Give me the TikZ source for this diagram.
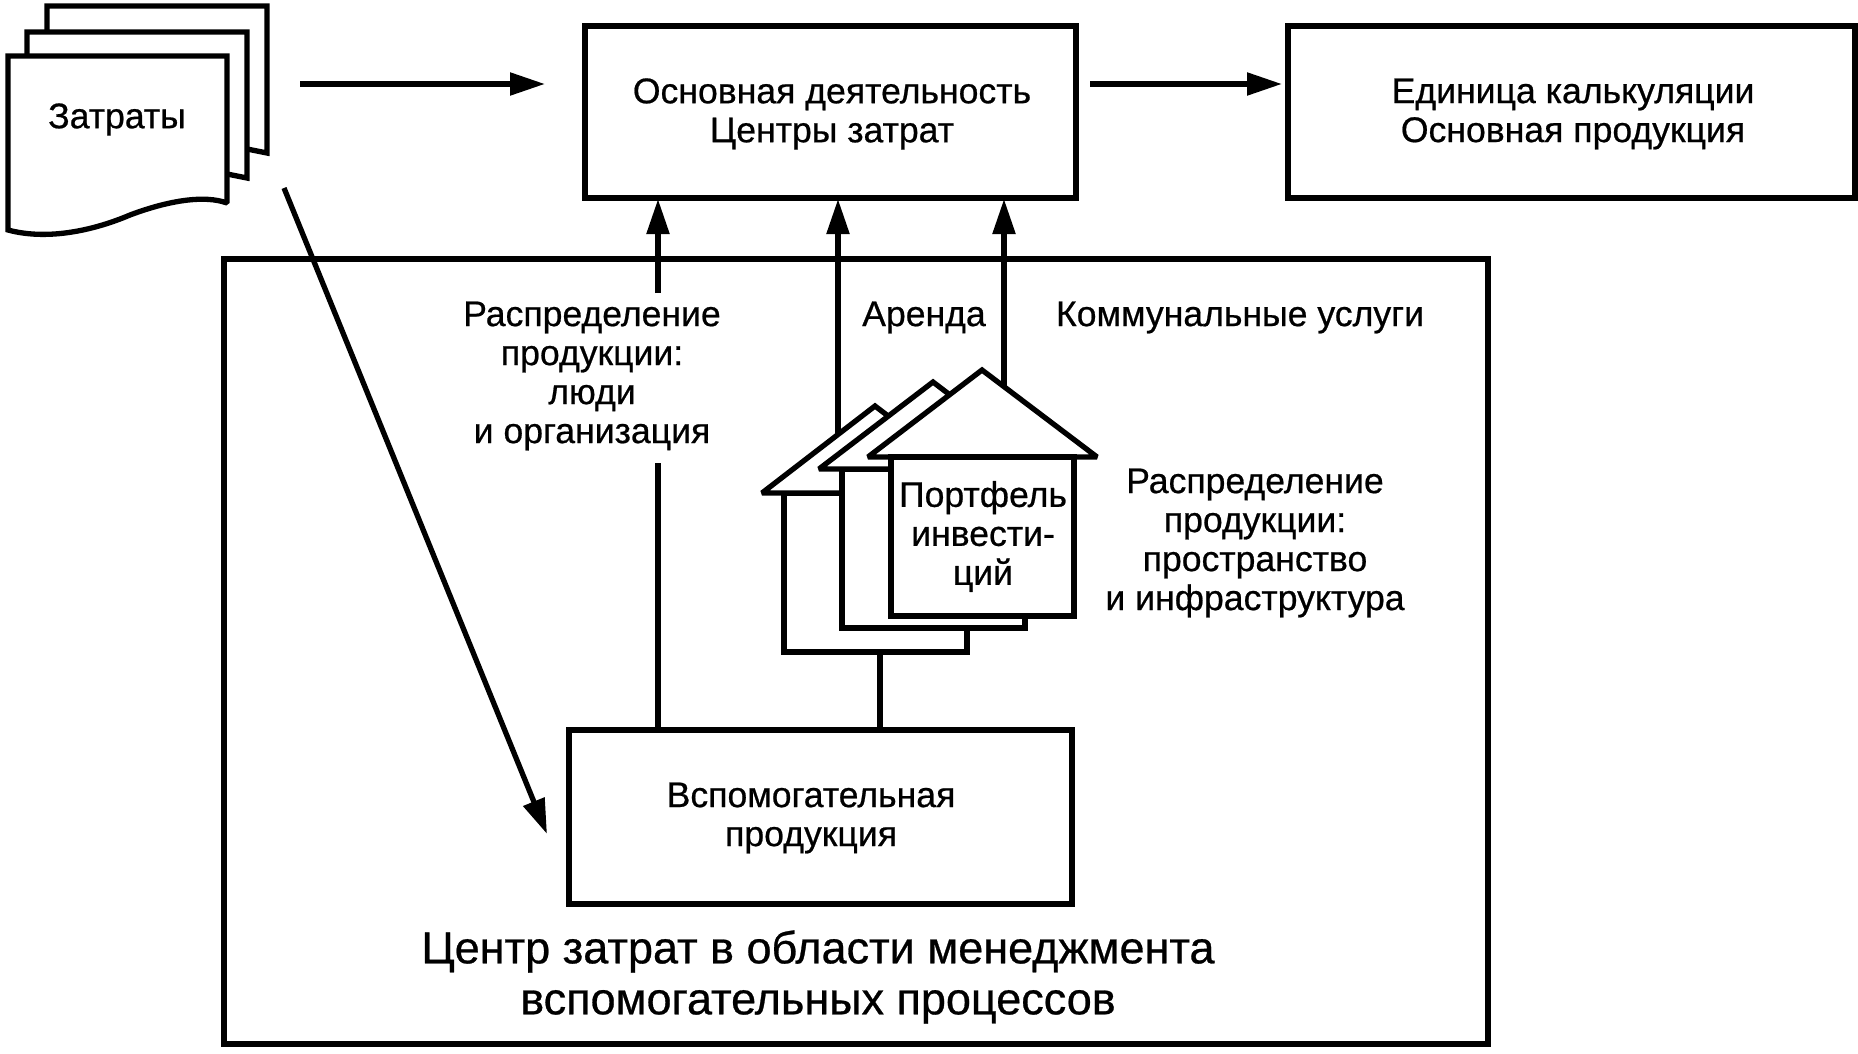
\documentclass[tikz,border=0pt]{standalone}
\usepackage{fontspec}
\setmainfont[FakeBold=0.6]{Liberation Sans}
\usetikzlibrary{arrows.meta}
\tikzset{
  lw/.style={line width=5.3pt},
  txt/.style={font=\fontsize{35.6}{39}\selectfont, align=center, inner sep=0pt},
  bigtxt/.style={font=\fontsize{45}{51}\selectfont, align=center, inner sep=0pt},
  boxn/.style={lw, draw=black, fill=white, inner sep=0pt},
  sheet/.style={lw, draw=black, fill=white, line join=miter, miter limit=1.6},
  conn/.style={lw, draw=black},
  arr/.style={lw, draw=black, -{Triangle[length=35pt,width=22pt]}}
}
\begin{document}
\begin{tikzpicture}[x=1pt,y=-1pt]
\useasboundingbox (0,0) rectangle (1858,1054);
\fill[white] (0,0) rectangle (1858,1054);
% support cost centre frame
\node[boxn, minimum width=1264pt, minimum height=785pt] (frame) at (856,651.5) {};
\node[bigtxt] (title) at (818,977) {Центр затрат в области менеджмента\\вспомогательных процессов};
% boxes
\node[boxn, minimum width=491pt, minimum height=172pt] (main) at (830.5,112) {};
\node[txt] (mainT) at (832,114) {Основная деятельность\\Центры затрат};
\node[boxn, minimum width=567pt, minimum height=172pt] (unit) at (1571.5,112) {};
\node[txt] (unitT) at (1573,114) {Единица калькуляции\\Основная продукция};
\node[boxn, minimum width=503pt, minimum height=174pt] (aux) at (820.5,817) {};
\node[txt] (auxT) at (811,818) {Вспомогательная\\продукция};
% sheets
\draw[sheet] (47,153) -- (47,6) -- (267,6) -- (267,153) -- (247,149);
\draw[sheet] (27,178) -- (27,32) -- (247,32) -- (247,178) -- (227,174);
\draw[sheet] (8,230) -- (8,56) -- (227,56) -- (227,203)
  .. controls (205,195) and (170,200) .. (130,215)
  .. controls (90,232) and (45,240) .. (8,230) -- cycle;
\node[txt] (costs) at (117,119.5) {Затраты};
% free ends
\coordinate (c1) at (300,84);
\coordinate (c2) at (545,84);
\coordinate (c3) at (1090,84);
\coordinate (c4) at (1282,84);
\coordinate (c5) at (284,188);
\coordinate (c6) at (547,834);
\draw[arr] (c1) -- (c2);
\draw[arr] (c3) -- (c4);
\draw[arr] (c5) -- (c6);
% vertical connectors
\coordinate (p1) at (658,730);
\coordinate (p2) at (658,463);
\coordinate (p3) at (658,293);
\coordinate (p4) at (658,199);
\coordinate (r1) at (838,440);
\coordinate (r2) at (838,199);
\coordinate (u1) at (1004,390);
\coordinate (u2) at (1004,199);
\coordinate (h0) at (880,652);
\coordinate (h1) at (880,730);
\draw[conn] (p1) -- (p2);
\draw[arr] (p3) -- (p4);
\draw[arr] (r1) -- (r2);
\draw[arr] (u1) -- (u2);
\draw[conn] (h0) -- (h1);
% houses
\draw[sheet] (784,493) rectangle (967,652);
\draw[sheet] (762,493) -- (875,406) -- (989,493) -- cycle;
\draw[sheet] (842,469) rectangle (1025,628);
\draw[sheet] (819,469) -- (933,382) -- (1047,469) -- cycle;
\draw[sheet] (868,457) -- (982,370) -- (1097,457) -- cycle;
\node[boxn, minimum width=183pt, minimum height=159pt] (house) at (982.5,536.5) {};
\node[txt] (houseT) at (983,536.5) {Портфель\\инвести-\\ций};
% labels
\node[txt] (l1) at (592,376) {Распределение\\продукции:\\люди\\и организация};
\node[txt] (l2) at (924,317.5) {Аренда};
\node[txt] (l3) at (1240,317.5) {Коммунальные услуги};
\node[txt] (l4) at (1255,543) {Распределение\\продукции:\\пространство\\и инфраструктура};
\end{tikzpicture}
\end{document}
